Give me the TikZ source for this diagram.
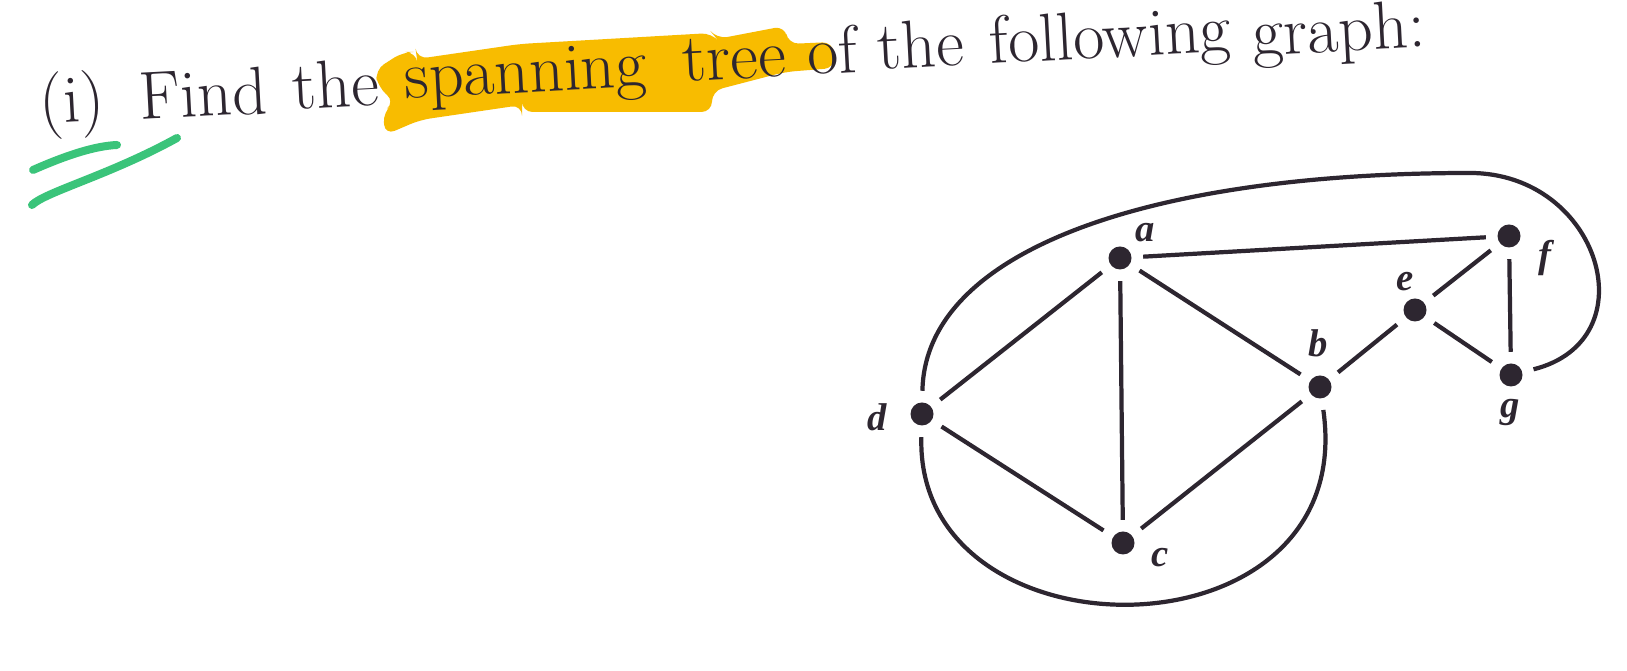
\documentclass[tikz,border=0pt]{standalone}
\usepackage{fontspec}
\newfontfamily\labelfont{Liberation Serif}
\usetikzlibrary{calc}

\definecolor{hilite}{RGB}{248,188,0}
\definecolor{marker}{RGB}{58,196,122}
\definecolor{ink}{RGB}{45,38,48}

\begin{document}
\begin{tikzpicture}[x=0.01cm, y=-0.01cm]
\tikzstyle{vertex}=[circle,fill=ink,minimum size=0.23cm,inner sep=0pt]
\tikzstyle{lbl}=[font=\labelfont\bfseries\itshape\fontsize{11}{13}\selectfont,text=ink,inner sep=0pt]
\tikzstyle{word}=[anchor=base west,inner sep=0pt,rotate=3,font=\fontsize{19.3}{23}\selectfont,text=ink]
\tikzstyle{edge}=[ink,line width=1.2pt,shorten <=0.11cm,shorten >=0.11cm]
\useasboundingbox (0,0) rectangle (1627,671);
\fill[white] (0,0) rectangle (1627,671);
% highlighter behind the words
\fill[hilite, rounded corners=3pt] (375,70) -- (403,52) -- (416,52) -- (417,59) -- (520,44) -- (712,33) -- (717,39) -- (785,26) -- (788,44) -- (833,42) -- (835,68) -- (785,72) -- (712,91) -- (712,112) -- (522,112) -- (522,105) -- (420,120) -- (385,135) -- (383,112) -- (395,102) -- (378,87) -- cycle;
% question
\node[word] (q_i) at (40,124) {(i)};
\node[word] (q_find) at (140,120) {Find};
\node[word] (q_the) at (293,110) {the};
\node[word] (q_spanning) at (405,99) {spanning};
\node[word] (q_tree) at (683,82) {tree};
\node[word] (q_of) at (808,75) {of};
\node[word] (q_the2) at (878,70) {the};
\node[word] (q_following) at (990,64) {following};
\node[word] (q_graph) at (1253,56) {graph:};
% green marks under (i)
\draw[marker, line width=0.08cm, line cap=round] (33,170) .. controls (67,155) and (95,146) .. (117,145);
\draw[marker, line width=0.08cm, line cap=round] (32,205) .. controls (45,192) and (110,175) .. (177,138);
% the graph
\node[vertex] (a) at (1120,258) {};
\node[vertex] (b) at (1320,387) {};
\node[vertex] (c) at (1123,543) {};
\node[vertex] (d) at (922,414) {};
\node[vertex] (e) at (1415,310) {};
\node[vertex] (f) at (1509,236) {};
\node[vertex] (g) at (1511,375) {};
\node[lbl] (L_a) at (1145,233) {a};
\node[lbl] (L_b) at (1318,343) {b};
\node[lbl] (L_c) at (1160,558) {c};
\node[lbl] (L_d) at (877,417) {d};
\node[lbl] (L_e) at (1405,282) {e};
\node[lbl] (L_f) at (1545,258) {f};
\node[lbl] (L_g) at (1510,413) {g};
\draw[edge] (a) -- (d);
\draw[edge] (a) -- (c);
\draw[edge] (a) -- (b);
\draw[edge] (a) -- (f);
\draw[edge] (d) -- (c);
\draw[edge] (c) -- (b);
\draw[edge] (b) -- (e);
\draw[edge] (e) -- (f);
\draw[edge] (e) -- (g);
\draw[edge] (f) -- (g);
\draw[edge] (d) .. controls (925,250) and (1150,173) .. (1470,173) .. controls (1600,173) and (1650,340) .. (g);
\draw[edge] (d) .. controls (915,665) and (1360,665) .. (b);
\end{tikzpicture}
\end{document}
